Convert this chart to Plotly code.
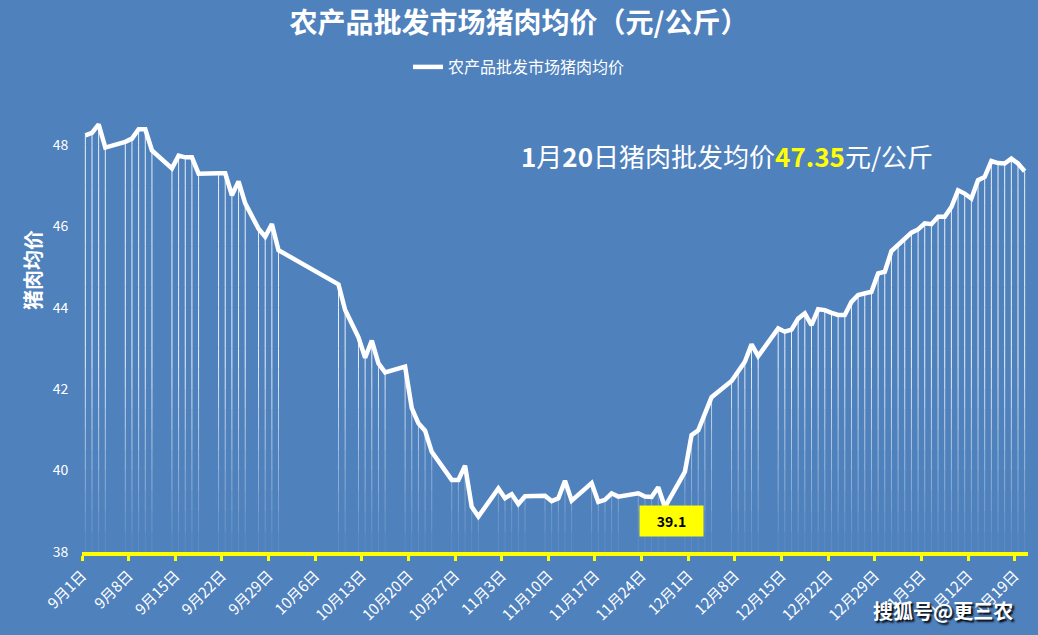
import plotly.graph_objects as go
import pandas as pd

# ---- data ----
dates = [
    "2020-09-01", "2020-09-02", "2020-09-03", "2020-09-04", "2020-09-07", "2020-09-08", "2020-09-09",
    "2020-09-10", "2020-09-11", "2020-09-14", "2020-09-15", "2020-09-16", "2020-09-17", "2020-09-18",
    "2020-09-21", "2020-09-22", "2020-09-23", "2020-09-24", "2020-09-25", "2020-09-27", "2020-09-28",
    "2020-09-29", "2020-09-30",
    "2020-10-09", "2020-10-10", "2020-10-12", "2020-10-13", "2020-10-14", "2020-10-15", "2020-10-16",
    "2020-10-19", "2020-10-20", "2020-10-21", "2020-10-22", "2020-10-23", "2020-10-26", "2020-10-27",
    "2020-10-28", "2020-10-29", "2020-10-30",
    "2020-11-02", "2020-11-03", "2020-11-04", "2020-11-05", "2020-11-06", "2020-11-09", "2020-11-10",
    "2020-11-11", "2020-11-12", "2020-11-13", "2020-11-16", "2020-11-17", "2020-11-18", "2020-11-19",
    "2020-11-20", "2020-11-23", "2020-11-24", "2020-11-25", "2020-11-26", "2020-11-27", "2020-11-30",
    "2020-12-01", "2020-12-02", "2020-12-03", "2020-12-04", "2020-12-07", "2020-12-08", "2020-12-09",
    "2020-12-10", "2020-12-11", "2020-12-14", "2020-12-15", "2020-12-16", "2020-12-17", "2020-12-18",
    "2020-12-19", "2020-12-20", "2020-12-21", "2020-12-22", "2020-12-23", "2020-12-24", "2020-12-25",
    "2020-12-26", "2020-12-27", "2020-12-28", "2020-12-29", "2020-12-30", "2020-12-31",
    "2021-01-01", "2021-01-02", "2021-01-03", "2021-01-04", "2021-01-05", "2021-01-06", "2021-01-07",
    "2021-01-08", "2021-01-09", "2021-01-10", "2021-01-11", "2021-01-12", "2021-01-13", "2021-01-14",
    "2021-01-15", "2021-01-16", "2021-01-17", "2021-01-18", "2021-01-19", "2021-01-20",
]
prices = [
    48.23, 48.29, 48.50, 47.93, 48.07, 48.15, 48.38,
    48.38, 47.86, 47.42, 47.73, 47.69, 47.69, 47.29,
    47.30, 47.30, 46.76, 47.10, 46.56, 45.94, 45.74,
    46.05, 45.41,
    44.57, 43.94, 43.27, 42.77, 43.19, 42.63, 42.41,
    42.55, 41.53, 41.16, 40.98, 40.46, 39.77, 39.77,
    40.12, 39.11, 38.87,
    39.56, 39.32, 39.42, 39.18, 39.37, 39.38, 39.25,
    39.32, 39.75, 39.26, 39.69, 39.23, 39.28, 39.44,
    39.36, 39.44, 39.36, 39.35, 39.59, 39.10, 39.97,
    40.87, 40.99, 41.40, 41.80, 42.20, 42.45, 42.67,
    43.10, 42.81, 43.49, 43.41, 43.46, 43.73, 43.86,
    43.57, 43.96, 43.94, 43.87, 43.82, 43.82, 44.14,
    44.31, 44.35, 44.39, 44.84, 44.88, 45.39,
    45.53, 45.70, 45.84, 45.92, 46.07, 46.05, 46.23,
    46.23, 46.47, 46.88, 46.80, 46.68, 47.13, 47.21,
    47.60, 47.55, 47.54, 47.66, 47.54, 47.35,
]
tick_dates = [
    "2020-09-01", "2020-09-08", "2020-09-15", "2020-09-22", "2020-09-29", "2020-10-06", "2020-10-13",
    "2020-10-20", "2020-10-27", "2020-11-03", "2020-11-10", "2020-11-17", "2020-11-24", "2020-12-01",
    "2020-12-08", "2020-12-15", "2020-12-22", "2020-12-29", "2021-01-05", "2021-01-12", "2021-01-19",
]
tick_labels = [
    "9月1日", "9月8日", "9月15日", "9月22日", "9月29日", "10月6日", "10月13日",
    "10月20日", "10月27日", "11月3日", "11月10日", "11月17日", "11月24日", "12月1日",
    "12月8日", "12月15日", "12月22日", "12月29日", "1月5日", "1月12日", "1月19日",
]
series_name = "农产品批发市场猪肉均价"
min_date = "2020-11-27"
min_label = "39.1"
last_label_value = "47.35"

BG = "#4F81BD"
FONT = "Noto Sans CJK SC"
Y0 = 38

# points sit in the middle of each day slot (date axis between tick marks)
xs = list(pd.to_datetime(dates) + pd.Timedelta(hours=12))

fig = go.Figure()

# drop lines with fading (gradient-like) opacity toward the axis
band = 0.5
lo = Y0
while lo < max(prices):
    hi = lo + band
    bx, by = [], []
    for xv, v in zip(xs, prices):
        if v > lo:
            bx += [xv, xv, None]
            by += [lo, min(hi, v), None]
    mid = (lo + hi) / 2
    alpha = max(0.04, min(0.88, 0.04 + (mid - Y0) * 0.18))
    fig.add_trace(go.Scatter(
        x=bx, y=by, mode="lines", showlegend=False, hoverinfo="skip",
        line=dict(color=f"rgba(255,255,255,{alpha:.3f})", width=1),
    ))
    lo = hi

fig.add_trace(go.Scatter(
    x=xs, y=prices, mode="lines", name=series_name,
    line=dict(color="white", width=4.5),
))

min_x = pd.Timestamp(min_date) + pd.Timedelta(hours=12)
fig.add_annotation(
    x=min_x, y=prices[dates.index(min_date)], xref="x", yref="y",
    text=f"<b>{min_label}</b>", showarrow=False, xshift=7, yshift=-14,
    xanchor="center", yanchor="middle",
    bgcolor="#FFFF00", width=61, height=28,
    font=dict(family=FONT, size=14, color="black"),
)

fig.add_annotation(
    x=(727 - 82) / 946, y=(552 - 155) / 448, xref="paper", yref="paper",
    xanchor="center", yanchor="middle",
    text=(f"<b>1</b>月<b>20</b>日猪肉批发均价"
          f"<b><span style='color:#FFFF00'>{last_label_value}</span></b>元/公斤"),
    showarrow=False, font=dict(family=FONT, size=26, color="white"),
)

fig.add_annotation(
    x=(32 - 82) / 946, y=(552 - 270) / 448, xref="paper", yref="paper", textangle=-90,
    xanchor="center", yanchor="middle",
    text="<b>猪肉均价</b>", showarrow=False,
    font=dict(family=FONT, size=20, color="white"),
)

fig.add_annotation(
    x=(943 - 82) / 946, y=(552 - 610) / 448, xref="paper", yref="paper",
    xanchor="center", yanchor="middle",
    text="<b>搜狐号@更三农</b>", showarrow=False,
    font=dict(family=FONT, size=20, color="white", shadow="2px 2px 2px #000000"),
)

fig.update_layout(
    width=1038, height=635,
    paper_bgcolor=BG, plot_bgcolor=BG,
    margin=dict(l=82, r=10, t=104, b=83),
    font=dict(family=FONT, color="white", size=13),
    title=dict(
        text="<b>农产品批发市场猪肉均价（元/公斤）</b>",
        x=0.5, xanchor="center", y=1 - 23 / 635, yanchor="middle",
        font=dict(family=FONT, size=28, color="white"),
    ),
    showlegend=True,
    legend=dict(
        orientation="h", xref="container", yref="container",
        x=0.5, xanchor="center", y=1 - 67 / 635, yanchor="middle",
        font=dict(family=FONT, size=16, color="white"),
        bgcolor="rgba(0,0,0,0)",
    ),
    xaxis=dict(
        type="date",
        range=["2020-09-01", "2021-01-21"],
        tickvals=tick_dates, ticktext=tick_labels, tickangle=-45,
        showline=True, linecolor="#FFFF00", linewidth=4,
        ticks="outside", tickcolor="#FFFF00", tickwidth=3, ticklen=5,
        showgrid=False, zeroline=False,
        tickfont=dict(family=FONT, size=15, color="white"),
    ),
    yaxis=dict(
        range=[38, 49], tickvals=[38, 40, 42, 44, 46, 48],
        showline=False, showgrid=False, zeroline=False,
        ticks="outside", ticklen=10, tickcolor="rgba(0,0,0,0)",
        tickfont=dict(family=FONT, size=14, color="white"),
    ),
)

fig.write_html("out.html")
